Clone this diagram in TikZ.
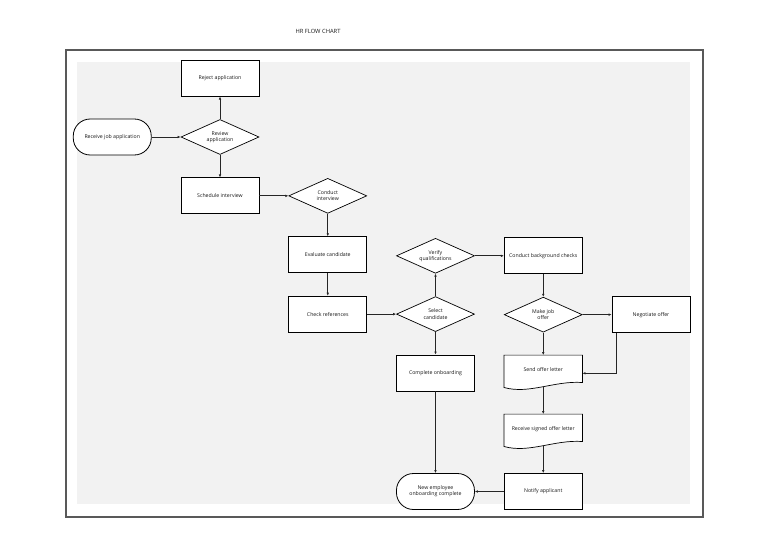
\documentclass[tikz,border=0pt]{standalone}
\usepackage{fontspec}
\setmainfont{Open Sans}
\usetikzlibrary{arrows.meta,positioning,shapes.geometric,backgrounds}

\begin{document}
\begin{tikzpicture}[
    x=1pt, y=-1pt,
    node distance=22.6pt and 29pt,
    every node/.style={font=\fontsize{5.2}{6.2}\selectfont, text=black!90},
    box/.style={
      draw,
      fill=white,
      line width=0.8pt,
      minimum width=78pt,
      minimum height=36pt,
      align=center
    },
    decision/.style={
      diamond,
      draw,
      fill=white,
      line width=0.7pt,
      aspect=2.2,
      minimum width=78pt,
      minimum height=35pt,
      inner sep=0.5pt,
      align=center
    },
    terminal/.style={box, rounded corners=17pt},
    docbox/.style={minimum width=78pt, minimum height=36pt, text depth=8pt},
    arrow/.style={-{Latex[length=3pt,width=2.6pt]}, line width=0.9pt, draw=black!85}
  ]
    \useasboundingbox (0,0) rectangle (768,543);

    % page frame and grey canvas
    \draw[black!65, line width=1.2pt] (66,50) rectangle (703,517);
    \begin{scope}[on background layer]
      \fill[black!5] (77,62) rectangle (690,504);
    \end{scope}
    \node[font=\fontsize{5.8}{7}\selectfont] (title) at (318,31) {HR FLOW CHART};

    \node[decision] (review) at (220,137) {Review\\application};
    \node[box, above=of review] (reject) {Reject application};
    \node[terminal, left=of review] (receive) {Receive job application};
    \node[box, below=of review] (schedule) {Schedule interview};
    \node[decision, right=of schedule] (interview) {Conduct\\interview};
    \node[box, below=of interview] (evaluate) {Evaluate candidate};
    \node[box, below=of evaluate] (references) {Check references};
    \node[decision, right=of references] (select) {Select\\candidate};
    \node[decision, above=of select] (verify) {Verify\\qualifications};
    \node[box, right=of verify] (background) {Conduct background checks};
    \node[decision, below=of background] (offer) {Make job\\offer};
    \node[box, right=of offer] (negotiate) {Negotiate offer};
    \node[box, below=of select] (onboarding) {Complete onboarding};
    \node[docbox, below=of offer] (sendletter) {Send offer letter};
    \node[docbox, below=of sendletter] (signedletter) {Receive signed offer letter};
    \node[box, below=of signedletter] (notify) {Notify applicant};
    \node[terminal, left=of notify] (complete) {New employee\\onboarding complete};

    % document outlines (wavy bottom)
    \begin{scope}[on background layer]
      \foreach \doc in {sendletter,signedletter}
        \draw[fill=white, line width=0.7pt] (\doc.north west) -- (\doc.north east)
          -- ([yshift=9pt]\doc.south east)
          .. controls ([shift={(-28pt,11pt)}]\doc.south east) and ([shift={(25pt,-3pt)}]\doc.south west)
          .. ([yshift=4pt]\doc.south west) -- cycle;
    \end{scope}

    \draw[arrow] (receive) -- (review);
    \draw[arrow] (review) -- (reject);
    \draw[arrow] (review) -- (schedule);
    \draw[arrow] (schedule) -- (interview);
    \draw[arrow] (interview) -- (evaluate);
    \draw[arrow] (evaluate) -- (references);
    \draw[arrow] (references) -- (select);
    \draw[arrow] (select) -- (verify);
    \draw[arrow] (verify) -- (background);
    \draw[arrow] (background) -- (offer);
    \draw[arrow] (offer) -- (negotiate);
    \draw[arrow] (offer) -- (sendletter);
    \draw[arrow] ([xshift=5pt]negotiate.south west) |- (sendletter.east);
    \draw[arrow] (select) -- (onboarding);
    \draw[arrow] (onboarding) -- (complete);
    \draw[arrow] ([yshift=4.5pt]sendletter.south) -- (signedletter);
    \draw[arrow] ([yshift=4.5pt]signedletter.south) -- (notify);
    \draw[arrow] (notify) -- (complete);
  \end{tikzpicture}
\end{document}
